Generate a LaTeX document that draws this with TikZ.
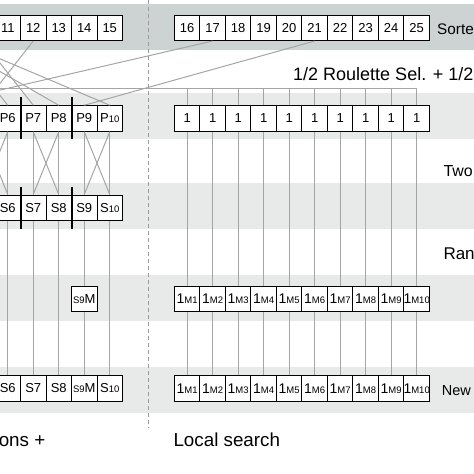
\documentclass[tikz,border=0pt]{standalone}
\usepackage{fontspec}
\setmainfont{Liberation Sans}
\definecolor{banddark}{RGB}{205,211,211}
\definecolor{bandlight}{RGB}{232,234,234}
\definecolor{linegray}{RGB}{165,165,165}
\definecolor{dashgray}{RGB}{155,155,155}
\newcommand\smtxt[1]{{\fontsize{9.5}{10}\selectfont #1}}
\newcommand\bigone{{\fontsize{14}{15}\selectfont 1}}
\begin{document}
\begin{tikzpicture}[x=1pt,y=-1pt,
  box/.style={draw=black,line width=1pt,fill=white,minimum width=25.5pt,minimum height=25.5pt,inner sep=0pt,font=\fontsize{13}{14}\selectfont},
  conn/.style={draw=linegray,line width=1pt},
  barmark/.style={draw=black,line width=2.2pt},
  divider/.style={draw=dashgray,line width=0.9pt,dash pattern=on 4pt off 3pt},
  lbl/.style={anchor=base west,inner sep=0pt,font=\fontsize{16.5}{18}\selectfont}]
\useasboundingbox (0,0) rectangle (474,474);
\clip (0,0) rectangle (474,474);
% bands
\fill[banddark] (-1,4) rectangle (475,50);
\foreach \y in {93,183,275,367} \fill[bandlight] (-1,\y) rectangle (475,\y+46);
% divider
\coordinate (dtop) at (148.3,0);
\coordinate (dbot) at (148.3,428);
\draw[divider] (dtop) -- (dbot);
% off-screen sources and targets
\coordinate (src10) at (-17.75,40.5);
\coordinate (src8) at (-54,40.5);
\coordinate (src9) at (-43.25,40.5);
\coordinate (srcP10) at (-43.25,40.5);
\coordinate (P5top) at (-17.75,106);
\coordinate (P3top) at (-68.75,106);
\coordinate (P5bot) at (-17.75,131);
\coordinate (S5top) at (-17.75,195);
\coordinate (Hsrc) at (-20,88.5);
% top row left
\node[box] (T11) at (7.75,27.75) {11};
\node[box] (T12) at (33.25,27.75) {12};
\node[box] (T13) at (58.75,27.75) {13};
\node[box] (T14) at (84.25,27.75) {14};
\node[box] (T15) at (109.75,27.75) {15};
% top row right
\foreach \i in {1,...,10}{
  \pgfmathsetmacro\xx{187.15+25.5*(\i-1)}
  \pgfmathtruncatemacro\nn{\i+15}
  \node[box] (T\nn) at (\xx,27.75) {\nn};
}
% P row left
\node[box] (P6) at (7.75,118.5) {P6};
\node[box] (P7) at (33.25,118.5) {P7};
\node[box] (P8) at (58.75,118.5) {P8};
\node[box] (P9) at (84.25,118.5) {P9};
\node[box] (P10) at (109.75,118.5) {P\smtxt{10}};
% S row left
\node[box] (S6) at (7.75,207.75) {S6};
\node[box] (S7) at (33.25,207.75) {S7};
\node[box] (S8) at (58.75,207.75) {S8};
\node[box] (S9) at (84.25,207.75) {S9};
\node[box] (S10) at (109.75,207.75) {S\smtxt{10}};
% M row left
\node[box] (M9) at (84.25,298.75) {\smtxt{S9}M};
% New row left
\node[box] (N6) at (7.75,388.25) {S6};
\node[box] (N7) at (33.25,388.25) {S7};
\node[box] (N8) at (58.75,388.25) {S8};
\node[box] (N9) at (84.25,388.25) {\smtxt{S9}M};
\node[box] (N10) at (109.75,388.25) {S\smtxt{10}};
% right columns
\foreach \i in {1,...,10}{
  \pgfmathsetmacro\xx{187.15+25.5*(\i-1)}
  \coordinate (H\i) at (\xx,88.5);
  \node[box] (RP\i) at (\xx,118.5) {1};
  \node[box] (RM\i) at (\xx,298.75) {\bigone\smtxt{M\i}};
  \node[box] (RN\i) at (\xx,388.25) {\bigone\smtxt{M\i}};
}
% connectors right
\draw[conn] (Hsrc) -- (H10);
\foreach \i in {1,...,10}{
  \draw[conn] (H\i) -- (RP\i.north);
  \draw[conn] (RP\i.south) -- (RM\i.north);
  \draw[conn] (RM\i.south) -- (RN\i.north);
}
% selection lines
\draw[conn] (T12.south) -- (P5top);
\draw[conn] (src10) -- (P7.north);
\draw[conn] (src8) -- (P8.north);
\draw[conn] (srcP10) -- (P10.north);
\draw[conn] (src9) -- (P6.north);
\draw[conn] (T17.south) -- (P3top);
\draw[conn] (T21.south) -- (P9.north);
% crossover lines
\foreach \k in {6,...,10}{
  \draw[conn] (P\k.south) -- (S\k.north);
}
\draw[conn] (P5bot) -- (S6.north);
\draw[conn] (P6.south) -- (S5top);
\draw[conn] (P7.south) -- (S8.north);
\draw[conn] (P8.south) -- (S7.north);
\draw[conn] (P9.south) -- (S10.north);
\draw[conn] (P10.south) -- (S9.north);
% mutation column lines
\draw[conn] (S6.south) -- (N6.north);
\draw[conn] (S7.south) -- (N7.north);
\draw[conn] (S8.south) -- (N8.north);
\draw[conn] (S9.south) -- (M9.north);
\draw[conn] (M9.south) -- (N9.north);
\draw[conn] (S10.south) -- (N10.north);
% crossover point bars
\draw[barmark] ([yshift=8pt]P6.north east) -- ([yshift=-7pt]P6.south east);
\draw[barmark] ([yshift=8pt]P8.north east) -- ([yshift=-7pt]P8.south east);
\draw[barmark] ([yshift=8pt]S6.north east) -- ([yshift=-8pt]S6.south east);
\draw[barmark] ([yshift=8pt]S8.north east) -- ([yshift=-8pt]S8.south east);
% labels
\node[lbl,font=\fontsize{15.3}{18}\selectfont] (lsorted) at (437,34) {Sorte};
\node[lbl,font=\fontsize{18}{20}\selectfont] (lroul) at (293,80) {1/2 Roulette Sel. + 1/2};
\node[lbl,font=\fontsize{15.9}{18}\selectfont] (ltwo) at (443.3,176) {Two};
\node[lbl,font=\fontsize{17}{18}\selectfont] (lran) at (443.3,259.3) {Ran};
\node[lbl,font=\fontsize{14.5}{16}\selectfont] (lnew) at (441.7,395.7) {New};
\node[lbl,font=\fontsize{18.8}{20}\selectfont] (lloc) at (173.3,446) {Local search};
\node[lbl,font=\fontsize{18.8}{20}\selectfont,anchor=base east] (lops) at (45.5,446) {ons +};
\end{tikzpicture}
\end{document}
